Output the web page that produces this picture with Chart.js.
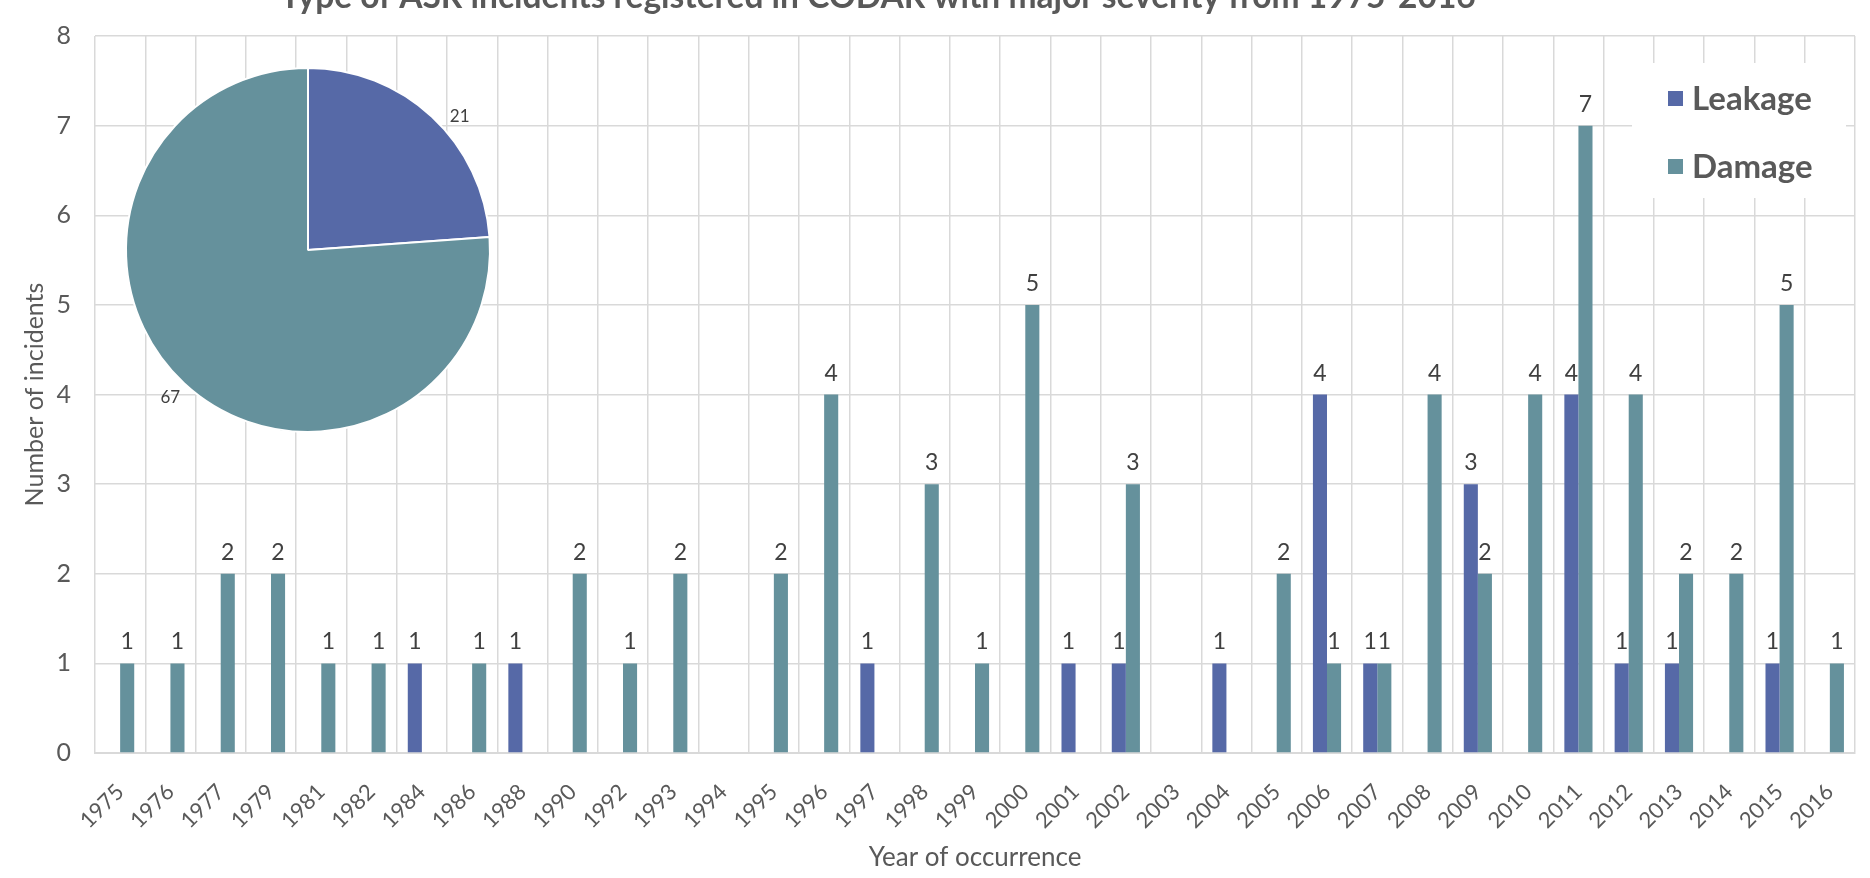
<!DOCTYPE html>
<html>
<head>
<meta charset="utf-8">
<script src="https://cdn.jsdelivr.net/npm/chart.js@4.4.1/dist/chart.umd.min.js"></script>
<style>
  html, body { margin: 0; padding: 0; background: #ffffff; }
  #wrap { position: relative; width: 1870px; height: 878px; overflow: hidden; }
  #bar { position: absolute; left: 0; top: 0; }
  #pie { position: absolute; left: 78px; top: 20px; }
</style>
</head>
<body>
<div id="wrap">
  <canvas id="bar" width="1870" height="878"></canvas>
  <canvas id="pie" width="460" height="460"></canvas>
</div>
<script>
// ---- data ----
const titleText = 'Type of ASR incidents registered in CODAR with major severity from 1975-2016';
const years = ['1975','1976','1977','1979','1981','1982','1984','1986','1988','1990','1992','1993','1994','1995','1996','1997','1998','1999','2000','2001','2002','2003','2004','2005','2006','2007','2008','2009','2010','2011','2012','2013','2014','2015','2016'];
const leakage = [0,0,0,0,0,0,1,0,1,0,0,0,0,0,0,1,0,0,0,1,1,0,1,0,4,1,0,3,0,4,1,1,0,1,0];
const damage  = [1,1,2,2,1,1,0,1,0,2,1,2,0,2,4,0,3,1,5,0,3,0,0,2,1,1,4,2,4,7,4,2,2,5,1];
const seriesNames = ['Leakage', 'Damage'];
const pieTotals = [21, 67];
const yTicks = [0,1,2,3,4,5,6,7,8];

const colLeak = '#5669a7';
const colDam = '#65919c';
const txt = '#595959';
const FONT = 'Lato, "Open Sans", sans-serif';

// ---- plugins ----
const barLabels = {
  id: 'barLabels',
  afterDatasetsDraw(chart) {
    const ctx = chart.ctx;
    ctx.save();
    ctx.font = '23px ' + FONT;
    ctx.fillStyle = '#404040';
    ctx.textAlign = 'center';
    ctx.textBaseline = 'alphabetic';
    chart.data.datasets.forEach((ds, di) => {
      const meta = chart.getDatasetMeta(di);
      meta.data.forEach((el, i) => {
        const v = ds.data[i];
        if (!v) return;
        ctx.fillText(String(v), el.x, el.y - 14);
      });
    });
    ctx.restore();
  }
};

const topTitle = {
  id: 'topTitle',
  afterDraw(chart) {
    const ctx = chart.ctx;
    ctx.save();
    ctx.font = 'bold 33.5px ' + FONT;
    ctx.fillStyle = txt;
    ctx.textAlign = 'center';
    ctx.textBaseline = 'alphabetic';
    ctx.fillText(titleText, 878, 8);
    ctx.restore();
  }
};

const customLegend = {
  id: 'customLegend',
  afterDraw(chart) {
    const ctx = chart.ctx;
    ctx.save();
    ctx.fillStyle = '#ffffff';
    ctx.fillRect(1632, 63, 214, 135);
    ctx.font = 'bold 33px ' + FONT;
    ctx.textAlign = 'left';
    ctx.textBaseline = 'middle';
    chart.data.datasets.forEach((ds, i) => {
      const cy = 99 + i * 68;
      ctx.fillStyle = ds.backgroundColor;
      ctx.fillRect(1668, cy - 8, 15, 15);
      ctx.fillStyle = txt;
      ctx.fillText(ds.label, 1692, cy);
    });
    ctx.restore();
  }
};

const pieLabelNudge = [0.1, 0];
const pieLabels = {
  id: 'pieLabels',
  afterDatasetsDraw(chart) {
    const ctx = chart.ctx;
    const meta = chart.getDatasetMeta(0);
    ctx.save();
    ctx.font = '17px ' + FONT;
    ctx.fillStyle = '#404040';
    ctx.textAlign = 'center';
    ctx.textBaseline = 'middle';
    meta.data.forEach((arc, i) => {
      const a = (arc.startAngle + arc.endAngle) / 2 + pieLabelNudge[i];
      const r = arc.outerRadius * 1.11;
      ctx.fillText(String(chart.data.datasets[0].data[i]), arc.x + Math.cos(a) * r, arc.y + Math.sin(a) * r);
    });
    ctx.restore();
  }
};

// ---- bar chart ----
new Chart(document.getElementById('bar'), {
  type: 'bar',
  data: {
    labels: years,
    datasets: [
      { label: seriesNames[0], data: leakage, backgroundColor: colLeak, borderWidth: 0 },
      { label: seriesNames[1], data: damage, backgroundColor: colDam, borderWidth: 0 }
    ]
  },
  options: {
    responsive: false,
    animation: false,
    devicePixelRatio: 1,
    categoryPercentage: 0.56,
    barPercentage: 1.0,
    layout: { padding: { left: 0, right: 15, top: 36, bottom: 0 } },
    plugins: {
      legend: { display: false },
      title: { display: false },
      tooltip: { enabled: false }
    },
    scales: {
      x: {
        grid: { color: '#d9d9d9', lineWidth: 1.5, drawTicks: false, offset: true },
        border: { color: '#d9d9d9', width: 2 },
        ticks: { color: txt, font: { family: FONT, size: 22 }, minRotation: 45, maxRotation: 45, padding: 26, autoSkip: false },
        title: { display: true, text: 'Year of occurrence', color: txt, font: { family: FONT, size: 26 }, padding: { top: 0, bottom: 5 } },
        afterFit(s) { s.height = 125; s.paddingLeft = 0; s.paddingRight = 0; }
      },
      y: {
        min: 0, max: 8,
        afterBuildTicks(s) { s.ticks = yTicks.map(v => ({ value: v })); },
        grid: { color: '#d9d9d9', lineWidth: 1.5, drawTicks: false },
        border: { display: false },
        ticks: { color: txt, font: { family: FONT, size: 25 }, padding: 24 },
        title: { display: true, text: 'Number of incidents', color: txt, font: { family: FONT, size: 25 }, padding: { top: 20, bottom: 0 } },
        afterFit(s) { s.width = 95; s.paddingTop = 0; s.paddingBottom = 0; }
      }
    }
  },
  plugins: [barLabels, topTitle, customLegend]
});

// ---- pie chart ----
new Chart(document.getElementById('pie'), {
  type: 'pie',
  data: {
    labels: seriesNames,
    datasets: [{ data: pieTotals, backgroundColor: [colLeak, colDam], borderColor: '#ffffff', borderWidth: 2 }]
  },
  options: {
    responsive: false,
    animation: false,
    devicePixelRatio: 1,
    layout: { padding: 47 },
    plugins: { legend: { display: false }, tooltip: { enabled: false } }
  },
  plugins: [pieLabels]
});
</script>
</body>
</html>
